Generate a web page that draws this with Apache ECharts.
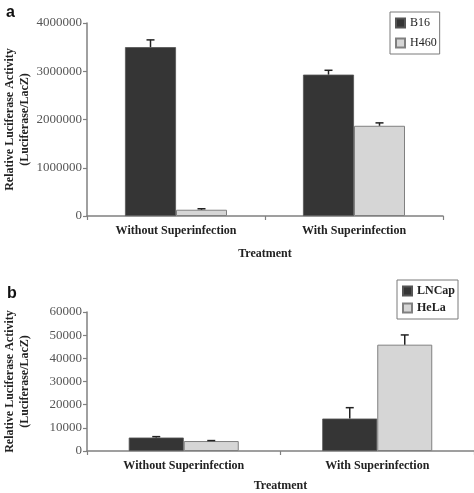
<!DOCTYPE html>
<html>
<head>
<meta charset="utf-8">
<script src="https://cdn.jsdelivr.net/npm/echarts@6/dist/echarts.min.js"></script>
<style>
  html, body { margin: 0; padding: 0; background: #fff; }
  #main { width: 474px; height: 493px; }
</style>
</head>
<body>
<div id="main"></div>
<script>
// 数据
var categories = ['Without Superinfection', 'With Superinfection'];
var b16 = [3500000, 2930000];
var b16Err = [150000, 90000];
var h460 = [130000, 1870000];
var h460Err = [20000, 60000];
var lncap = [5800, 14000];
var lncapErr = [400, 4700];
var hela = [4300, 45900];
var helaErr = [200, 4200];

var serif = '"Liberation Serif", "DejaVu Serif", serif';
var dark = '#353535';
var light = '#d6d6d6';

var myChart = echarts.init(document.getElementById('main'));

// 误差线 (只画向上的一半)
function errBar(side, barW) {
	return function(params, api) {
		var idx = api.value(0);
		var base = api.coord([idx, api.value(1)]);
		var top = api.coord([idx, api.value(1) + api.value(2)]);
		var cx = base[0] + side * barW / 2;
		var st = { stroke: '#222', lineWidth: 1.5 };
		return {
			type: 'group',
			children: [
				{ type: 'line', shape: { x1: cx, y1: base[1], x2: cx, y2: top[1] }, style: st },
				{ type: 'line', shape: { x1: cx - 4, y1: top[1], x2: cx + 4, y2: top[1] }, style: st }
			]
		};
	};
}
function errData(vals, errs) {
	return vals.map(function(v, i) { return [i, v, errs[i]]; });
}

var axisLine = { lineStyle: { color: '#808080', width: 1.5 } };
var tickStyle = { show: true, length: 4, lineStyle: { color: '#808080', width: 1.2 } };

function xAx(gi, gap) {
	return {
		type: 'category', gridIndex: gi, data: categories,
		axisLine: axisLine, axisTick: tickStyle,
		axisLabel: { color: '#222', fontFamily: serif, fontWeight: 'bold', fontSize: 12, margin: 9 },
		name: 'Treatment', nameLocation: 'middle', nameGap: gap, nameMoveOverlap: false,
		nameTextStyle: { color: '#222', fontFamily: serif, fontWeight: 'bold', fontSize: 12 },
		splitLine: { show: false }
	};
}
function yAx(gi, max, interval) {
	return {
		type: 'value', gridIndex: gi, min: 0, max: max, interval: interval,
		axisLine: { show: true, lineStyle: axisLine.lineStyle }, axisTick: tickStyle,
		axisLabel: { color: '#555', fontFamily: serif, fontSize: 13, margin: 5,
			formatter: function(v) { return String(v); } },
		splitLine: { show: false },
		name: 'Relative Luciferase Activity\n(Luciferase/LacZ)',
		nameLocation: 'middle', nameRotate: 90, nameGap: 55, nameMoveOverlap: false,
		nameTextStyle: { color: '#222', fontFamily: serif, fontWeight: 'bold', fontSize: 12, lineHeight: 15 }
	};
}
function legendBox(left, top, names, bold, gap) {
	return {
		orient: 'vertical', left: left, top: top, data: names,
		icon: 'rect', itemWidth: 9, itemHeight: 9, itemGap: gap,
		padding: [5, 3, 5, 5],
		borderColor: '#7a7a7a', borderWidth: 1, backgroundColor: '#fff',
		textStyle: { color: '#222', fontFamily: serif, fontSize: 12, fontWeight: bold ? 'bold' : 'normal' }
	};
}

myChart.setOption({
	animation: false,
	title: [
		{ text: 'a', left: 1, top: 0, textStyle: { fontFamily: '"Liberation Sans", Arial, sans-serif', fontWeight: 'bold', fontSize: 16, color: '#111' } },
		{ text: 'b', left: 2, top: 281, textStyle: { fontFamily: '"Liberation Sans", Arial, sans-serif', fontWeight: 'bold', fontSize: 16, color: '#111' } }
	],
	legend: [
		legendBox(390, 12, ['B16', 'H460'], false, 8),
		legendBox(397, 280, ['LNCap', 'HeLa'], true, 5)
	],
	grid: [
		{ left: 87, top: 23, width: 356, height: 193, containLabel: false, outerBoundsMode: 'none' },
		{ left: 87, top: 312, width: 387, height: 139, containLabel: false, outerBoundsMode: 'none' }
	],
	xAxis: [xAx(0, 32), xAx(1, 29)],
	yAxis: [yAx(0, 4000000, 1000000), yAx(1, 60000, 10000)],
	series: [
		{ name: 'B16', type: 'bar', xAxisIndex: 0, yAxisIndex: 0, data: b16, barWidth: 51, barGap: '0%',
		  itemStyle: { color: dark, borderColor: '#555', borderWidth: 0.8 } },
		{ name: 'H460', type: 'bar', xAxisIndex: 0, yAxisIndex: 0, data: h460, barWidth: 51, barGap: '0%',
		  itemStyle: { color: light, borderColor: '#808080', borderWidth: 1 } },
		{ name: 'LNCap', type: 'bar', xAxisIndex: 1, yAxisIndex: 1, data: lncap, barWidth: 55, barGap: '0%',
		  itemStyle: { color: dark, borderColor: '#555', borderWidth: 0.8 } },
		{ name: 'HeLa', type: 'bar', xAxisIndex: 1, yAxisIndex: 1, data: hela, barWidth: 55, barGap: '0%',
		  itemStyle: { color: light, borderColor: '#808080', borderWidth: 1 } },
		{ type: 'custom', xAxisIndex: 0, yAxisIndex: 0, renderItem: errBar(-1, 51), data: errData(b16, b16Err), z: 5, encode: { x: 0, y: 1 } },
		{ type: 'custom', xAxisIndex: 0, yAxisIndex: 0, renderItem: errBar(1, 51), data: errData(h460, h460Err), z: 5, encode: { x: 0, y: 1 } },
		{ type: 'custom', xAxisIndex: 1, yAxisIndex: 1, renderItem: errBar(-1, 55), data: errData(lncap, lncapErr), z: 5, encode: { x: 0, y: 1 } },
		{ type: 'custom', xAxisIndex: 1, yAxisIndex: 1, renderItem: errBar(1, 55), data: errData(hela, helaErr), z: 5, encode: { x: 0, y: 1 } }
	]
});
</script>
</body>
</html>
